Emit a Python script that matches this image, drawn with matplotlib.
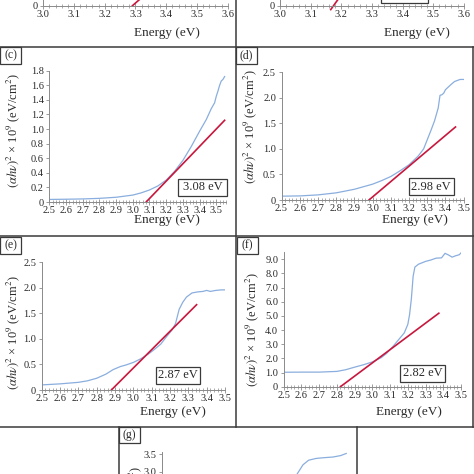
import matplotlib
matplotlib.use("Agg")
import matplotlib.pyplot as plt
from matplotlib.lines import Line2D
from matplotlib.patches import Rectangle
from matplotlib.ticker import MultipleLocator

plt.rcParams['font.family'] = ['Liberation Serif', 'DejaVu Serif']
plt.rcParams['mathtext.fontset'] = 'stix'

# ---------------- data ----------------
# panel (c)
E_c = [2.50, 2.60, 2.70, 2.80, 2.90, 3.00, 3.05, 3.10, 3.15, 3.20, 3.25, 3.30, 3.35,
       3.40, 3.44, 3.47, 3.49, 3.50, 3.51, 3.52, 3.53, 3.54, 3.55]
A_c = [0.035, 0.038, 0.042, 0.050, 0.065, 0.095, 0.125, 0.165, 0.22, 0.30, 0.42, 0.57, 0.76,
       0.97, 1.13, 1.28, 1.36, 1.45, 1.52, 1.60, 1.66, 1.68, 1.72]
fit_c_E = [3.08, 3.55]
fit_c_A = [0.0, 1.12]
gap_c = "3.08 eV"
yt_c = [0, 0.2, 0.4, 0.6, 0.8, 1.0, 1.2, 1.4, 1.6, 1.8]
yl_c = ['0', '0.2', '0.4', '0.6', '0.8', '1.0', '1.2', '1.4', '1.6', '1.8']

# panel (d)
E_d = [2.50, 2.60, 2.70, 2.80, 2.90, 3.00, 3.05, 3.10, 3.15, 3.20, 3.25, 3.28, 3.30,
       3.32, 3.34, 3.36, 3.37, 3.38, 3.39, 3.40, 3.43, 3.45, 3.48, 3.50]
A_d = [0.075, 0.08, 0.10, 0.14, 0.21, 0.31, 0.38, 0.46, 0.57, 0.69, 0.86, 1.00, 1.18,
       1.36, 1.55, 1.80, 2.05, 2.06, 2.09, 2.16, 2.26, 2.32, 2.36, 2.36]
fit_d_E = [2.98, 3.455]
fit_d_A = [0.0, 1.43]
gap_d = "2.98 eV"
yt_d = [0, 0.5, 1.0, 1.5, 2.0, 2.5]
yl_d = ['0', '0.5', '1.0', '1.5', '2.0', '2.5']

# panel (e)
E_e = [2.50, 2.60, 2.70, 2.75, 2.80, 2.85, 2.89, 2.93, 2.96, 3.00, 3.04, 3.08, 3.11, 3.15,
       3.18, 3.21, 3.23, 3.25, 3.27, 3.29, 3.32, 3.35, 3.38, 3.40, 3.42, 3.45, 3.48, 3.50]
A_e = [0.10, 0.12, 0.15, 0.18, 0.23, 0.31, 0.40, 0.46, 0.49, 0.54, 0.61, 0.70, 0.78, 0.90,
       1.04, 1.17, 1.30, 1.58, 1.72, 1.82, 1.90, 1.92, 1.93, 1.95, 1.93, 1.95, 1.96, 1.96]
fit_e_E = [2.88, 3.345]
fit_e_A = [0.0, 1.67]
gap_e = "2.87 eV"
yt_e = [0, 0.5, 1.0, 1.5, 2.0, 2.5]
yl_e = ['0', '0.5', '1.0', '1.5', '2.0', '2.5']

# panel (f)
E_f = [2.50, 2.60, 2.70, 2.80, 2.85, 2.90, 2.95, 3.00, 3.05, 3.08, 3.12, 3.15, 3.18, 3.20,
       3.21, 3.22, 3.23, 3.24, 3.26, 3.30, 3.33, 3.36, 3.39, 3.41, 3.43, 3.45, 3.47, 3.49, 3.50]
A_f = [1.02, 1.03, 1.03, 1.08, 1.20, 1.38, 1.55, 1.75, 2.05, 2.35, 2.90, 3.35, 3.80, 4.40,
       5.10, 6.20, 7.80, 8.45, 8.65, 8.85, 8.95, 9.08, 9.10, 9.42, 9.30, 9.15, 9.25, 9.32, 9.45]
fit_f_E = [2.82, 3.375]
fit_f_A = [0.0, 5.19]
gap_f = "2.82 eV"
yt_f = [0, 1, 2, 3, 4, 5, 6, 7, 8, 9]
yl_f = ['0', '1.0', '2.0', '3.0', '4.0', '5.0', '6.0', '7.0', '8.0', '9.0']

# panels (a), (b) (only bottom visible)
fit_a_E = [3.29, 3.60]
fit_a_A = [0.0, 0.64]
fit_b_E = [3.165, 3.60]
fit_b_A = [-0.03, 1.4]
xt_ab = [3.0, 3.1, 3.2, 3.3, 3.4, 3.5, 3.6]
xl_ab = ['3.0', '3.1', '3.2', '3.3', '3.4', '3.5', '3.6']

# panel (g) (only top visible)
E_g = [2.50, 2.80, 3.00, 3.10, 3.18, 3.22, 3.25, 3.28, 3.32, 3.36, 3.41, 3.45, 3.48]
A_g = [0.80, 0.95, 1.30, 1.80, 2.60, 2.95, 3.20, 3.33, 3.38, 3.40, 3.42, 3.46, 3.52]
yt_g = [3.0, 3.5]
yl_g = ['3.0', '3.5']

xt = [2.5, 2.6, 2.7, 2.8, 2.9, 3.0, 3.1, 3.2, 3.3, 3.4, 3.5]
xl = ['2.5', '2.6', '2.7', '2.8', '2.9', '3.0', '3.1', '3.2', '3.3', '3.4', '3.5']

YLABEL = r'$(\alpha h\nu)^2$ × 10$^9$ (eV/cm$^2$)'
XLABEL = 'Energy (eV)'

BLUE = '#8aaede'
RED = '#c8173d'
AX = '#8a8a8a'
TXT = '#2a2a2a'
FRAME = '#3a3a3a'

W = H = 474.0
fig = plt.figure(figsize=(4.74, 4.74), dpi=100)


def fx(x):
    return x / W


def fy(y):
    return 1 - y / H


def make_ax(x0, x1, ybot, ytop):
    ax = fig.add_axes([fx(x0), fy(ybot), (x1 - x0) / W, (ybot - ytop) / H])
    ax.set_facecolor('none')
    for s in ['top', 'right']:
        ax.spines[s].set_visible(False)
    for s in ['left', 'bottom']:
        ax.spines[s].set_color(AX)
        ax.spines[s].set_linewidth(0.7)
    ax.tick_params(axis='x', which='major', direction='inout', length=4, width=0.6,
                   color=AX, labelsize=7.5, pad=1, labelcolor=TXT)
    ax.tick_params(axis='x', which='minor', direction='inout', length=2.4, width=0.5,
                   color=AX)
    ax.tick_params(axis='y', which='major', direction='out', length=2.5, width=0.6,
                   color=AX, labelsize=7.5, pad=1.5, labelcolor=TXT)
    ax.xaxis.set_minor_locator(MultipleLocator(0.02))
    return ax


def box_text(x0, x1, y0, y1, s, size):
    fig.add_artist(Rectangle((fx(x0), fy(y1)), (x1 - x0) / W, (y1 - y0) / H,
                             transform=fig.transFigure, facecolor='white',
                             edgecolor=FRAME, linewidth=0.9, zorder=5))
    fig.text(fx((x0 + x1) / 2), fy((y0 + y1) / 2), s, ha='center', va='center',
             fontsize=size, color=TXT, zorder=6)


def hline(y, x0, x1):
    fig.add_artist(Line2D([fx(x0), fx(x1)], [fy(y), fy(y)], transform=fig.transFigure,
                          color=FRAME, linewidth=1.1))


def vline(x, y0, y1):
    fig.add_artist(Line2D([fx(x), fx(x)], [fy(y0), fy(y1)], transform=fig.transFigure,
                          color=FRAME, linewidth=1.1))


# ---- (a) and (b): bottoms only ----
for (x0, x1, fe, fa, ex) in [(43.3, 227.7, fit_a_E, fit_a_A, 167),
                             (280.3, 463.7, fit_b_E, fit_b_A, 417)]:
    ax = make_ax(x0, x1, 5.7, -124.3)
    ax.set_xlim(3.0, 3.6)
    ax.set_ylim(0, 1)
    ax.plot(fe, fa, color=RED, lw=1.2, clip_on=False)
    ax.set_xticks(xt_ab, xl_ab)
    ax.set_yticks([0], ['0'])
    fig.text(fx(ex), fy(33), XLABEL, ha='center', va='center', fontsize=9.5, color=TXT)

fig.add_artist(Rectangle((fx(381), fy(2.7)), 47 / W, 0.05, transform=fig.transFigure,
                         facecolor='white', edgecolor=FRAME, linewidth=0.9))

# ---- main panels ----
panels = [
    (49.3, 226.3, 202, 70.7, (0, 1.8), 3.56, E_c, A_c, fit_c_E, fit_c_A, yt_c, yl_c,
     (178, 227, 179, 196, gap_c), (166.5, 220), (13, 131), (0, 21, 47, 64, '(c)')),
    (281.5, 463.7, 200, 72.3, (0, 2.5), 3.5, E_d, A_d, fit_d_E, fit_d_A, yt_d, yl_d,
     (408.7, 453.7, 178, 195, gap_d), (415, 220), (250, 127), (236, 257, 47, 64, '(d)')),
    (41.7, 225, 390, 262.3, (0, 2.5), 3.5, E_e, A_e, fit_e_E, fit_e_A, yt_e, yl_e,
     (156, 200, 367, 384, gap_e), (173, 411.7), (13, 333), (0, 21, 237, 254, '(e)')),
    (283.7, 461, 386.7, 252.2, (0, 9.5), 3.5, E_f, A_f, fit_f_E, fit_f_A, yt_f, yl_f,
     (400, 445, 365, 382, gap_f), (409.3, 411.7), (252, 330), (237, 258, 237, 254, '(f)')),
]

for (x0, x1, yb, ytp, yl_, xmax, E, A, fE, fA, yt, ylb, gb, xlp, ylp, lb) in panels:
    ax = make_ax(x0, x1, yb, ytp)
    ax.set_xlim(2.5, xmax)
    ax.set_ylim(*yl_)
    ax.plot(E, A, color=BLUE, lw=0.9)
    ax.plot(fE, fA, color=RED, lw=1.2)
    ax.set_xticks(xt, xl)
    ax.set_yticks(yt, ylb)
    box_text(gb[0], gb[1], gb[2], gb[3], gb[4], 9)
    fig.text(fx(xlp[0]), fy(xlp[1]), XLABEL, ha='center', va='center', fontsize=9.5, color=TXT)
    fig.text(fx(ylp[0]), fy(ylp[1]), YLABEL, ha='center', va='center', rotation=90,
             fontsize=9, color=TXT)
    box_text(lb[0], lb[1], lb[2], lb[3], lb[4], 8.5)

# ---- (g): top only ----
axg = make_ax(162, 350, 578, 451.7)
axg.set_xlim(2.5, 3.5)
axg.set_ylim(0, 3.57)
axg.plot(E_g, A_g, color=BLUE, lw=0.9)
axg.set_xticks(xt, [])
axg.set_yticks(yt_g, yl_g)
fig.text(fx(135), fy(466), YLABEL, ha='center', va='top', rotation=90, fontsize=9, color=TXT)

# ---- frames ----
hline(47, 0, 474)
hline(236, 0, 474)
hline(426.5, 0, 474)
vline(236, 0, 426.5)
vline(119, 426.5, 474)
vline(357, 426.5, 474)
vline(472.8, 47, 426.5)
box_text(119, 140, 426.5, 443, '(g)', 8.5)

fig.savefig('out.png', dpi=100)
